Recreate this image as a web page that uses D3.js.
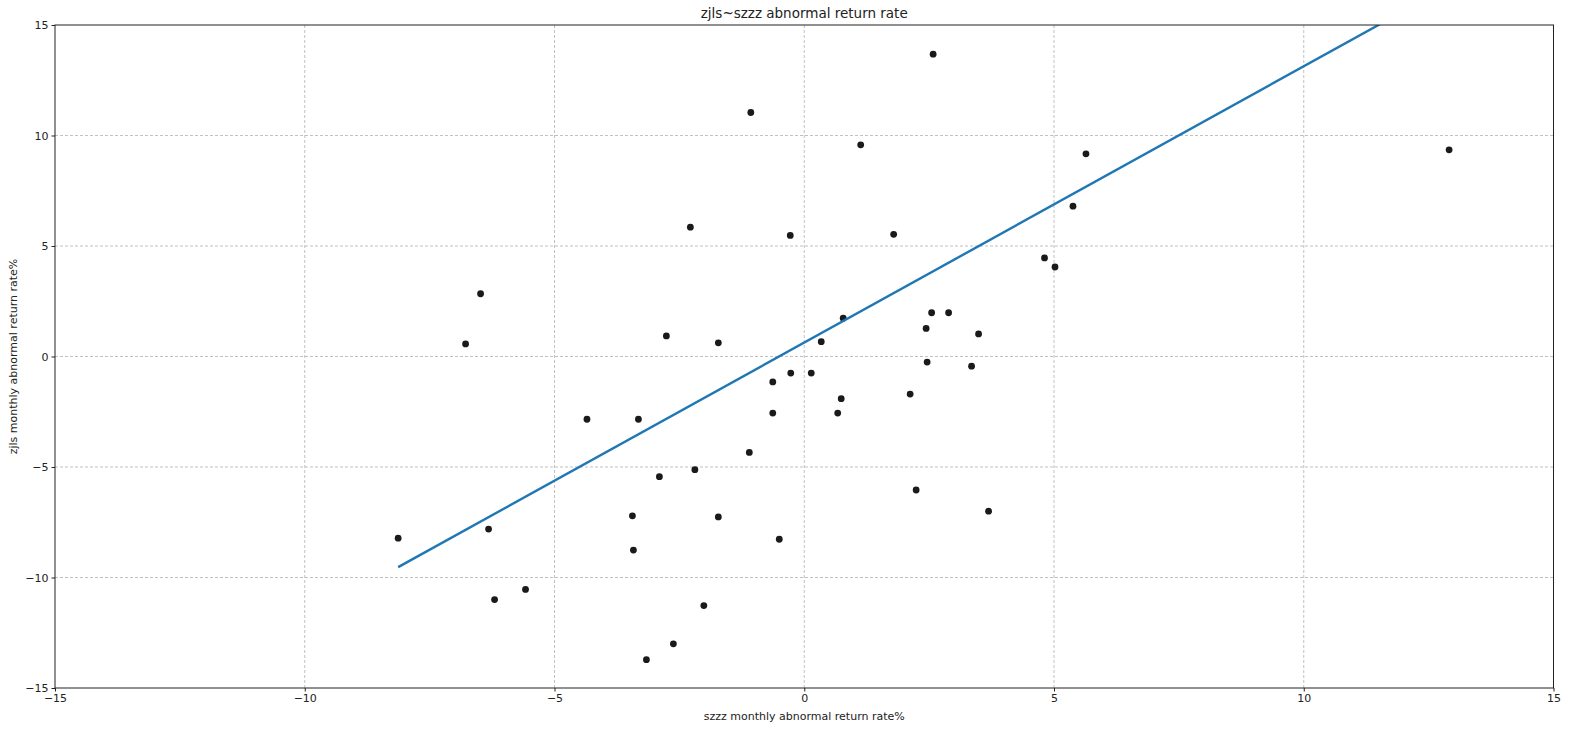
<!DOCTYPE html>
<html><head><meta charset="utf-8">
<script src="https://cdn.jsdelivr.net/npm/d3@7"></script>
<style>body{margin:0;background:#fff}svg{display:block;font-family:"DejaVu Sans",sans-serif}</style>
</head><body><svg id="c" width="1577" height="737"></svg>
<script>
const xVals = [-8.13,-6.78,-6.48,-6.32,-6.20,-5.58,-4.35,-3.32,-3.44,-3.42,-3.16,-2.90,-2.76,-2.62,-2.28,-2.19,-2.01,-1.72,-1.72,-1.10,-1.07,-0.63,-0.63,-0.50,-0.27,-0.28,0.14,0.34,0.67,0.74,0.78,1.13,1.79,2.12,2.24,2.44,2.46,2.55,2.58,2.89,3.35,3.49,3.69,4.81,5.02,5.38,5.64,12.91];
const yVals = [-8.22,0.57,2.84,-7.81,-11.0,-10.54,-2.84,-2.84,-7.21,-8.76,-13.72,-5.44,0.93,-13.0,5.85,-5.12,-11.27,0.62,-7.26,-4.34,11.04,-1.15,-2.56,-8.27,-0.75,5.48,-0.75,0.67,-2.56,-1.91,1.73,9.58,5.53,-1.70,-6.04,1.27,-0.25,1.98,13.68,1.98,-0.44,1.02,-7.00,4.46,4.05,6.80,9.17,9.35];
const fitSlope = 1.25, fitIntercept = 0.63;
const xTicks = [-15,-10,-5,0,5,10,15];
const yTicks = [-15,-10,-5,0,5,10,15];
const title = "zjls~szzz abnormal return rate";
const xLabel = "szzz monthly abnormal return rate%";
const yLabel = "zjls monthly abnormal return rate%";

const svg = d3.select("#c");
const L=55, R=1553.5, T=25, B=688;
const x = d3.scaleLinear().domain([-15,15]).range([L,R]);
const y = d3.scaleLinear().domain([-15,15]).range([B,T]);
const fmt = d => d<0 ? "\u2212"+Math.abs(d) : String(d);

svg.append("defs").append("clipPath").attr("id","clip").append("rect")
  .attr("x",L).attr("y",T).attr("width",R-L).attr("height",B-T);

// grid
const g = svg.append("g");
g.selectAll(".gx").data(xTicks.slice(1,-1)).join("line")
  .attr("x1",d=>x(d)).attr("x2",d=>x(d)).attr("y1",T).attr("y2",B)
  .attr("stroke","#b0b0b0").attr("stroke-width",0.8).attr("stroke-dasharray","3,2");
g.selectAll(".gy").data(yTicks.slice(1,-1)).join("line")
  .attr("y1",d=>y(d)).attr("y2",d=>y(d)).attr("x1",L).attr("x2",R)
  .attr("stroke","#b0b0b0").attr("stroke-width",0.8).attr("stroke-dasharray","3,2");

// points
svg.append("g").selectAll("circle").data(xVals.map((v,i)=>[v,yVals[i]])).join("circle")
  .attr("cx",d=>x(d[0])).attr("cy",d=>y(d[1])).attr("r",3.4).attr("fill","#1a1a1a");

// fit line
const xmin=d3.min(xVals), xmax=d3.max(xVals);
svg.append("line").attr("clip-path","url(#clip)")
  .attr("x1",x(xmin)).attr("y1",y(fitSlope*xmin+fitIntercept))
  .attr("x2",x(xmax)).attr("y2",y(fitSlope*xmax+fitIntercept))
  .attr("stroke","#1f77b4").attr("stroke-width",2.4);

// axes
const ax = svg.append("g").attr("transform",`translate(0,${B})`)
  .call(d3.axisBottom(x).tickValues(xTicks).tickFormat(fmt).tickSize(3.5).tickPadding(3));
const ay = svg.append("g").attr("transform",`translate(${L},0)`)
  .call(d3.axisLeft(y).tickValues(yTicks).tickFormat(fmt).tickSize(3.5).tickPadding(3));
[ax,ay].forEach(a=>{a.select(".domain").remove();
  a.selectAll("text").attr("font-size",11).attr("fill","#222").attr("font-family","DejaVu Sans");
  a.selectAll("line").attr("stroke","#222");});
svg.append("rect").attr("x",L).attr("y",T).attr("width",R-L).attr("height",B-T)
  .attr("fill","none").attr("stroke","#222").attr("stroke-width",1);

svg.append("text").attr("x",(L+R)/2).attr("y",18).attr("text-anchor","middle")
  .attr("font-size",13.5).attr("fill","#222").text(title);
svg.append("text").attr("x",(L+R)/2).attr("y",720).attr("text-anchor","middle")
  .attr("font-size",11).attr("fill","#222").text(xLabel);
svg.append("text").attr("transform",`translate(17,${(T+B)/2}) rotate(-90)`).attr("text-anchor","middle")
  .attr("font-size",11).attr("fill","#222").text(yLabel);
</script></body></html>
